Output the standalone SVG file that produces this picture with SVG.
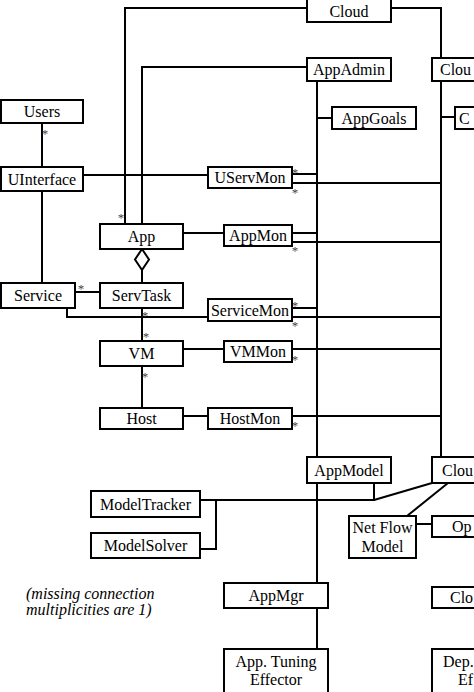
<svg xmlns="http://www.w3.org/2000/svg" width="474" height="692" viewBox="0 0 474 692">
<style>
.box{fill:#fff;stroke:#000;stroke-width:2}
.ln{fill:none;stroke:#000;stroke-width:2}
text{font-family:'Liberation Serif','DejaVu Serif','Noto Serif',serif}
.t{font-size:16px;text-anchor:middle;fill:#000}
.tl{font-size:16px;fill:#000}
.s{font-size:13px;fill:#444;text-anchor:middle}
.n{font-size:16px;font-style:italic;fill:#000}
</style>
<rect width="474" height="692" fill="#fff"/>
<g id="connectors">
<polyline class="ln" points="125,224 125,8 307,8"/>
<polyline class="ln" points="391,8 441,8 441,58"/>
<polyline class="ln" points="142,224 142,67 307,67"/>
<line class="ln" x1="317" y1="81" x2="317" y2="457"/>
<line class="ln" x1="317" y1="118" x2="332" y2="118"/>
<line class="ln" x1="441" y1="81" x2="441" y2="457"/>
<line class="ln" x1="441" y1="117" x2="455" y2="117"/>
<line class="ln" x1="42" y1="123" x2="42" y2="167"/>
<line class="ln" x1="42" y1="191" x2="42" y2="283"/>
<line class="ln" x1="83" y1="175" x2="208" y2="175"/>
<line class="ln" x1="292" y1="174" x2="317" y2="174"/>
<line class="ln" x1="292" y1="183" x2="441" y2="183"/>
<line class="ln" x1="183" y1="233" x2="224" y2="233"/>
<line class="ln" x1="292" y1="233" x2="317" y2="233"/>
<line class="ln" x1="292" y1="242" x2="441" y2="242"/>
<polygon class="box" points="142,249 149,259.5 142,270 135,259.5"/>
<line class="ln" x1="142" y1="270" x2="142" y2="283"/>
<line class="ln" x1="75" y1="292" x2="100" y2="292"/>
<polyline class="ln" points="67,308 67,317 208,317"/>
<line class="ln" x1="292" y1="308" x2="317" y2="308"/>
<line class="ln" x1="292" y1="317" x2="441" y2="317"/>
<line class="ln" x1="142" y1="308" x2="142" y2="341"/>
<line class="ln" x1="183" y1="349" x2="224" y2="349"/>
<line class="ln" x1="292" y1="349" x2="441" y2="349"/>
<line class="ln" x1="142" y1="366" x2="142" y2="408"/>
<line class="ln" x1="183" y1="416" x2="208" y2="416"/>
<line class="ln" x1="292" y1="416" x2="441" y2="416"/>
<line class="ln" x1="317" y1="483" x2="317" y2="583"/>
<polyline class="ln" points="374,483 374,500 200,500"/>
<polyline class="ln" points="216,500 216,549 200,549"/>
<line class="ln" x1="374" y1="500" x2="432" y2="483"/>
<line class="ln" x1="448" y1="483" x2="407" y2="516"/>
<line class="ln" x1="416" y1="524" x2="432" y2="524"/>
<line class="ln" x1="317" y1="608" x2="317" y2="649"/>
</g>
<g id="stars">
<text class="s" x="45" y="138">*</text>
<text class="s" x="121" y="222">*</text>
<text class="s" x="295" y="177">*</text>
<text class="s" x="295" y="197">*</text>
<text class="s" x="295" y="255">*</text>
<text class="s" x="81" y="293">*</text>
<text class="s" x="145" y="320">*</text>
<text class="s" x="146" y="341">*</text>
<text class="s" x="145" y="381">*</text>
<text class="s" x="295" y="310">*</text>
<text class="s" x="295" y="330">*</text>
<text class="s" x="295" y="364">*</text>
<text class="s" x="295" y="430">*</text>
</g>
<g id="Cloud"><rect class="box" x="307" y="-2" width="84" height="24"/><text class="t" x="349" y="16.5">Cloud</text></g>
<g id="AppAdmin"><rect class="box" x="307" y="58" width="84" height="23"/><text class="t" x="349" y="75">AppAdmin</text></g>
<g id="CloudR"><rect class="box" x="432" y="58" width="60" height="23"/><text class="tl" x="440" y="75">Clou</text></g>
<g id="AppGoals"><rect class="box" x="332" y="107" width="84" height="22"/><text class="t" x="374" y="123.5">AppGoals</text></g>
<g id="CR2"><rect class="box" x="455" y="107" width="40" height="22"/><text class="tl" x="459" y="123.5">C</text></g>
<g id="Users"><rect class="box" x="1" y="100" width="82" height="23"/><text class="t" x="42" y="117">Users</text></g>
<g id="UInterface"><rect class="box" x="1" y="167" width="82" height="24"/><text class="t" x="42" y="184.5">UInterface</text></g>
<g id="UServMon"><rect class="box" x="208" y="167" width="84" height="21"/><text class="t" x="250" y="183">UServMon</text></g>
<g id="App"><rect class="box" x="100" y="224" width="83" height="25"/><text class="t" x="141.5" y="242">App</text></g>
<g id="AppMon"><rect class="box" x="224" y="225" width="68" height="21"/><text class="t" x="258" y="241">AppMon</text></g>
<g id="Service"><rect class="box" x="1" y="283" width="74" height="25"/><text class="t" x="38" y="301">Service</text></g>
<g id="ServTask"><rect class="box" x="100" y="283" width="83" height="25"/><text class="t" x="141.5" y="301">ServTask</text></g>
<g id="ServiceMon"><rect class="box" x="208" y="299" width="84" height="22"/><text class="t" x="250" y="315.5">ServiceMon</text></g>
<g id="VM"><rect class="box" x="100" y="341" width="83" height="25"/><text class="t" x="141.5" y="359">VM</text></g>
<g id="VMMon"><rect class="box" x="224" y="341" width="68" height="21"/><text class="t" x="258" y="357">VMMon</text></g>
<g id="Host"><rect class="box" x="100" y="408" width="83" height="21"/><text class="t" x="141.5" y="424">Host</text></g>
<g id="HostMon"><rect class="box" x="208" y="408" width="84" height="21"/><text class="t" x="250" y="424">HostMon</text></g>
<g id="AppModel"><rect class="box" x="307" y="457" width="84" height="26"/><text class="t" x="349" y="475.5">AppModel</text></g>
<g id="CloudModel"><rect class="box" x="432" y="457" width="60" height="26"/><text class="tl" x="442" y="475.5">Clou</text></g>
<g id="ModelTracker"><rect class="box" x="91" y="491" width="109" height="26"/><text class="t" x="145.5" y="509.5">ModelTracker</text></g>
<g id="ModelSolver"><rect class="box" x="91" y="533" width="109" height="25"/><text class="t" x="145.5" y="551">ModelSolver</text></g>
<g id="NetFlowModel"><rect class="box" x="349" y="516" width="67" height="42"/><text class="t" x="382.5" y="532.5">Net Flow</text><text class="t" x="382.5" y="551.5">Model</text></g>
<g id="Opt"><rect class="box" x="432" y="516" width="60" height="21"/><text class="tl" x="452" y="532">Op</text></g>
<g id="AppMgr"><rect class="box" x="224" y="583" width="104" height="25"/><text class="t" x="276" y="601">AppMgr</text></g>
<g id="CloudMgr"><rect class="box" x="432" y="587" width="60" height="21"/><text class="tl" x="450" y="603">Clo</text></g>
<g id="AppTuning"><rect class="box" x="224" y="649" width="104" height="50"/><text class="t" x="276" y="666.5">App. Tuning</text><text class="t" x="276" y="684.5">Effector</text></g>
<g id="DepEffector"><rect class="box" x="432" y="649" width="60" height="50"/><text class="tl" x="443" y="666.5">Dep.</text><text class="tl" x="458" y="684.5">Ef</text></g>
<g id="note"><text class="n" x="26" y="599">(missing connection</text><text class="n" x="26" y="615">multiplicities are 1)</text></g>
</svg>
